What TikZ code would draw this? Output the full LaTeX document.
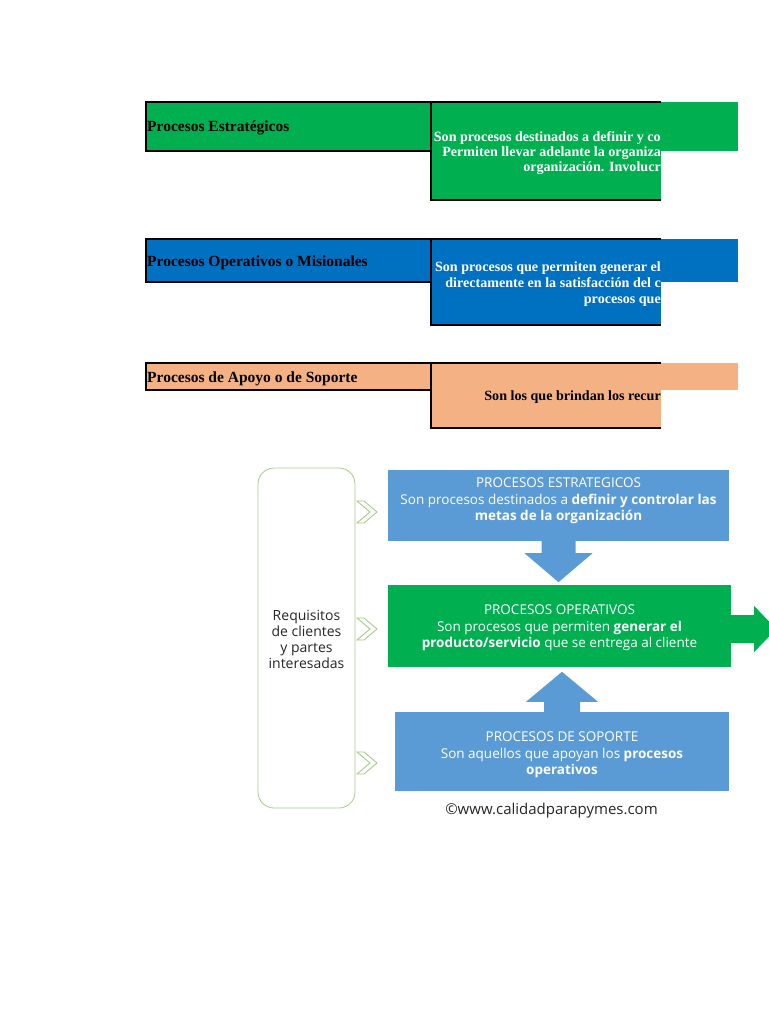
\documentclass[tikz,border=0pt]{standalone}
\usepackage{fontspec}
\setmainfont{Liberation Serif}
\newfontfamily\diagfont{Open Sans}
\usetikzlibrary{calc}

\definecolor{tabgreen}{HTML}{00B050}
\definecolor{tabblue}{HTML}{0070C0}
\definecolor{taborange}{HTML}{F4B183}
\definecolor{boxblue}{HTML}{5B9BD5}
\definecolor{boxgreen}{HTML}{00B050}
\definecolor{reqline}{HTML}{A9C98B}

\newcommand{\reqchev}[2]{\draw[chevline] (#1,#2) ++(-10,-11) -- ++(7,0) -- ++(13,11) -- ++(-13,11) -- ++(-7,0) -- ++(13,-11) -- cycle;}

\begin{document}
\begin{tikzpicture}[x=1pt,y=-1pt,
  cellline/.style={line width=2pt, black},
  celltext/.style={font=\fontsize{15.5}{17}\selectfont\bfseries, anchor=base west, inner sep=0pt},
  desctext/.style={font=\fontsize{14.1}{15}\selectfont\bfseries, anchor=base east, inner sep=0pt},
  procbox/.style={text=white, align=center, inner sep=0pt,
    font=\diagfont\fontsize{13.5}{16.5}\selectfont},
  reqbox/.style={draw=reqline, line width=0.8pt, rounded corners=16pt, align=center,
    minimum width=97pt, minimum height=340pt, text=black!85,
    font=\diagfont\fontsize{14}{16}\selectfont},
  chevline/.style={draw=reqline, line width=0.9pt, fill=white}]

\useasboundingbox (0,0) rectangle (768,1024);

%% row 1
\fill[tabgreen] (146,102) rectangle (738,151);
\fill[tabgreen] (431,151) rectangle (661,200);
\draw[cellline] (146,102) rectangle (431,151);
\draw[cellline] (661,102) -- (431,102) -- (431,200) -- (661,200);
\node[celltext] (estratL) at (147,132) {Procesos Estratégicos};
\node[desctext, text=white] (estratR1) at (661,141.5) {Son procesos destinados a definir y co};
\node[desctext, text=white] (estratR2) at (661,157) {Permiten llevar adelante la organiza};
\node[desctext, text=white] (estratR3) at (661,172) {organización. Involucr};

%% row 2
\fill[tabblue] (146,239) rectangle (738,282);
\fill[tabblue] (431,282) rectangle (661,325);
\draw[cellline] (146,239) rectangle (431,282);
\draw[cellline] (661,239) -- (431,239) -- (431,325) -- (661,325);
\node[celltext] (operatL) at (147,266) {Procesos Operativos o Misionales};
\node[desctext, text=white] (operatR1) at (661,271.5) {Son procesos que permiten generar el};
\node[desctext, text=white] (operatR2) at (661,287) {directamente en la satisfacción del c};
\node[desctext, text=white] (operatR3) at (661,303) {procesos que};

%% row 3
\fill[taborange] (146,363) rectangle (738,390);
\fill[taborange] (431,390) rectangle (661,428);
\draw[cellline] (146,363) rectangle (431,390);
\draw[cellline] (661,363) -- (431,363) -- (431,428) -- (661,428);
\node[celltext] (soporteL) at (147,382) {Procesos de Apoyo o de Soporte};
\node[desctext] (soporteR1) at (661,400.5) {Son los que brindan los recur};

%% diagram boxes
\node[reqbox, text height=61pt] (req) at (306.5,638) {Requisitos\\de clientes\\y partes\\interesadas};
\node[procbox, fill=boxblue, minimum width=341pt, minimum height=71pt, text depth=12.3pt] (estrat) at (558.5,505.5)
  {PROCESOS ESTRATEGICOS\\Son procesos destinados a \textbf{definir y controlar las}\\\textbf{metas de la organización}};
\node[procbox, fill=boxgreen, minimum width=343pt, minimum height=82pt, text height=47pt] (operat) at (559.5,626)
  {PROCESOS OPERATIVOS\\Son procesos que permiten \textbf{generar el}\\\textbf{producto/servicio} que se entrega al cliente};
\node[procbox, fill=boxblue, minimum width=334pt, minimum height=79pt, text height=50pt] (soporte) at (562,751.5)
  {PROCESOS DE SOPORTE\\Son aquellos que apoyan los \textbf{procesos}\\\textbf{operativos}};
\node[font=\diagfont\fontsize{15}{17}\selectfont, text=black!85] (copy) at (551.5,810.5) {©www.calidadparapymes.com};

%% block arrows
\fill[boxblue] ($(estrat.south)+(-17,0)$) -- ++(0,12) -- ++(-17,0) -- ++(34,29) -- ++(34,-29) -- ++(-17,0) -- ++(0,-12) -- cycle;
\fill[boxblue] ($(soporte.north)+(-18,0)$) -- ++(0,-10) -- ++(-18,0) -- ++(36,-30) -- ++(36,30) -- ++(-18,0) -- ++(0,10) -- cycle;
\fill[boxgreen] ($(operat.east)+(0,-11)$) -- ++(23,0) -- ++(0,-9) -- ++(22,23) -- ++(-22,23) -- ++(0,-9) -- ++(-23,0) -- cycle;

%% chevrons
\reqchev{367}{512}
\reqchev{367}{629}
\reqchev{367}{763}

\end{tikzpicture}
\end{document}
